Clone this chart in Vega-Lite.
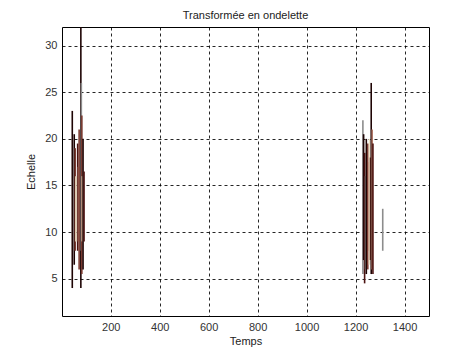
{
  "$schema": "https://vega.github.io/schema/vega-lite/v6.json",
  "autosize": "none",
  "width": 367,
  "height": 289,
  "padding": {"left": 62, "top": 27, "right": 45, "bottom": 39},
  "background": "white",
  "config": {
    "font": "Liberation Sans",
    "view": {"stroke": "#000000", "strokeWidth": 1},
    "axis": {
      "grid": true,
      "gridColor": "#000000",
      "gridDash": [3, 3],
      "gridOpacity": 0.85,
      "domain": false,
      "ticks": false,
      "labelFont": "Liberation Sans",
      "labelFontSize": 11,
      "labelColor": "#333333",
      "titleFont": "Liberation Sans",
      "titleFontSize": 11,
      "titleFontWeight": "normal",
      "titleColor": "#222222"
    }
  },
  "title": {
    "text": "Transformée en ondelette",
    "font": "Liberation Sans",
    "fontSize": 11,
    "fontWeight": "normal",
    "color": "#222222",
    "offset": 6
  },
  "data": {
    "values": [
      {"t": 43, "y1": 4, "y2": 23, "level": "a"},
      {"t": 51, "y1": 6.5, "y2": 20.5, "level": "a"},
      {"t": 55, "y1": 8, "y2": 19, "level": "c"},
      {"t": 58, "y1": 9, "y2": 16, "level": "e"},
      {"t": 65, "y1": 8, "y2": 19.5, "level": "b"},
      {"t": 68, "y1": 9, "y2": 17, "level": "d"},
      {"t": 71, "y1": 6, "y2": 21, "level": "c"},
      {"t": 78, "y1": 4, "y2": 33, "level": "a"},
      {"t": 80, "y1": 8, "y2": 26, "level": "f"},
      {"t": 82, "y1": 5.5, "y2": 22.5, "level": "c"},
      {"t": 84, "y1": 9, "y2": 16, "level": "e"},
      {"t": 87, "y1": 6, "y2": 20, "level": "a"},
      {"t": 91, "y1": 9, "y2": 16.5, "level": "b"},
      {"t": 1230, "y1": 5.5, "y2": 22, "level": "f"},
      {"t": 1233, "y1": 7, "y2": 20.5, "level": "a"},
      {"t": 1237, "y1": 4.5, "y2": 18.5, "level": "b"},
      {"t": 1241, "y1": 6, "y2": 16, "level": "f"},
      {"t": 1244, "y1": 5.5, "y2": 20, "level": "a"},
      {"t": 1250, "y1": 6, "y2": 19.5, "level": "c"},
      {"t": 1254, "y1": 8, "y2": 17.5, "level": "d"},
      {"t": 1257, "y1": 6.5, "y2": 20, "level": "e"},
      {"t": 1261, "y1": 7, "y2": 18, "level": "c"},
      {"t": 1264, "y1": 5.5, "y2": 26, "level": "a"},
      {"t": 1268, "y1": 6, "y2": 21, "level": "d"},
      {"t": 1271, "y1": 5.5, "y2": 19.5, "level": "b"},
      {"t": 1311, "y1": 8, "y2": 12.5, "level": "f"}
    ]
  },
  "mark": {"type": "rule", "strokeWidth": 1.6, "clip": true},
  "encoding": {
    "x": {
      "field": "t",
      "type": "quantitative",
      "scale": {"domain": [1, 1500], "nice": false, "zero": false},
      "axis": {"values": [200, 400, 600, 800, 1000, 1200, 1400], "format": "d", "title": "Temps", "labelPadding": 5, "titlePadding": 3}
    },
    "y": {
      "field": "y1",
      "type": "quantitative",
      "scale": {"domain": [1, 32], "nice": false, "zero": false},
      "axis": {"values": [5, 10, 15, 20, 25, 30], "format": "d", "title": "Echelle", "labelPadding": 5, "titlePadding": 8}
    },
    "y2": {"field": "y2"},
    "color": {
      "field": "level",
      "type": "nominal",
      "scale": {
        "domain": ["a", "b", "c", "d", "e", "f"],
        "range": ["#1e0404", "#4a1210", "#7a3a30", "#b07868", "#efe2c4", "#8c8c8c"]
      },
      "legend": null
    }
  }
}
